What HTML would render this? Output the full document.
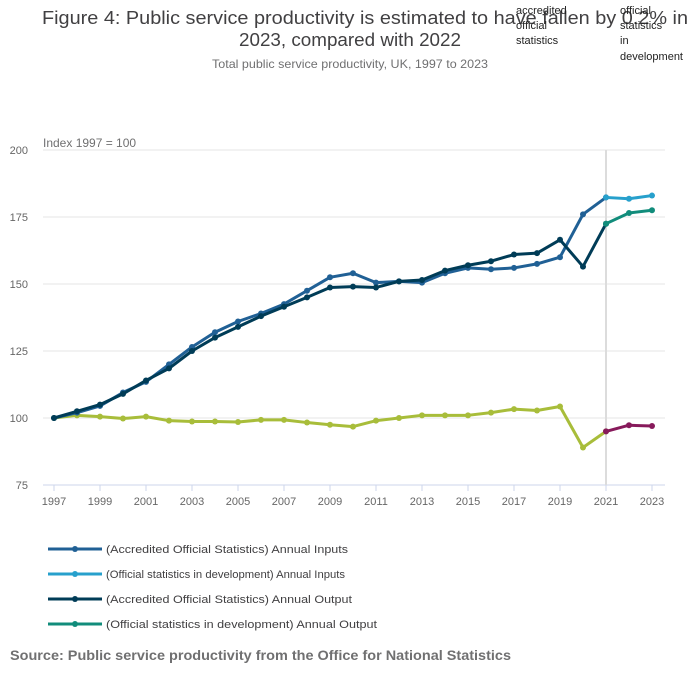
<!DOCTYPE html>
<html><head><meta charset="utf-8"><style>
body{margin:0;background:#fff;font-family:"Liberation Sans",sans-serif;}
svg text{font-family:"Liberation Sans",sans-serif;}
</style></head><body>
<svg id="chart" width="700" height="682">
<text x="42" y="24" textLength="646" lengthAdjust="spacingAndGlyphs" font-size="18" fill="#414042">Figure 4: Public service productivity is estimated to have fallen by 0.2% in</text>
<text x="239" y="46" textLength="222" lengthAdjust="spacingAndGlyphs" font-size="18" fill="#414042">2023, compared with 2022</text>
<text x="212" y="68" textLength="276" lengthAdjust="spacingAndGlyphs" font-size="12" fill="#707071">Total public service productivity, UK, 1997 to 2023</text>
<g font-size="11" fill="#222">
<text x="516" y="14">accredited</text><text x="516" y="29">official</text><text x="516" y="44">statistics</text></g>
<g font-size="11" fill="#222">
<text x="620" y="14">official</text><text x="620" y="29">statistics</text><text x="620" y="44">in</text><text x="620" y="60">development</text></g>
<text x="43" y="147" font-size="12" fill="#707071">Index 1997 = 100</text>
<g id="grid"></g><g id="series"></g><g id="legend"></g>
<text x="10" y="660" textLength="501" lengthAdjust="spacingAndGlyphs" font-size="14" font-weight="bold" fill="#707071">Source: Public service productivity from the Office for National Statistics</text>
</svg>
<script>
const years=[1997,1998,1999,2000,2001,2002,2003,2004,2005,2006,2007,2008,2009,2010,2011,2012,2013,2014,2015,2016,2017,2018,2019,2020,2021,2022,2023];
const yTicks=[75,100,125,150,175,200];
const xTickLabels=[1997,1999,2001,2003,2005,2007,2009,2011,2013,2015,2017,2019,2021,2023];
const inputsAcc=[100,102,104.5,109.5,113.5,120,126.5,132,136,139,142.5,147.5,152.5,154,150.5,151,150.5,154,156,155.5,156,157.5,160,176,182.3,null,null];
const inputsDev=[null,null,null,null,null,null,null,null,null,null,null,null,null,null,null,null,null,null,null,null,null,null,null,null,182.3,181.8,183];
const outputAcc=[100,102.5,105,109,114,118.5,125,130,134,138,141.5,145,148.7,149,148.7,151,151.5,155,157,158.5,161,161.5,166.5,156.5,172.5,null,null];
const outputDev=[null,null,null,null,null,null,null,null,null,null,null,null,null,null,null,null,null,null,null,null,null,null,null,null,172.5,176.5,177.5];
const prodAcc=[100,101,100.5,99.8,100.5,99,98.7,98.7,98.5,99.3,99.3,98.3,97.5,96.8,99,100,101,101,101,102,103.3,102.8,104.3,89,95,null,null];
const prodDev=[null,null,null,null,null,null,null,null,null,null,null,null,null,null,null,null,null,null,null,null,null,null,null,null,95,97.3,97];
const NS='http://www.w3.org/2000/svg';
const x=yr=>54+(yr-1997)*23;
const y=v=>150+(200-v)*2.68;
function mk(tag,attrs,parent){const e=document.createElementNS(NS,tag);for(const k in attrs)e.setAttribute(k,attrs[k]);parent.appendChild(e);return e;}
const grid=document.getElementById('grid');
yTicks.forEach(t=>{
  const l=mk('line',{x1:43,x2:665,y1:y(t),y2:y(t),stroke:t===75?'#ccd6eb':'#e6e6e6','stroke-width':1},grid);
  
  
  const tx=mk('text',{x:28,y:y(t)+4,'text-anchor':'end','font-size':11,fill:'#666'},grid);tx.textContent=t;
  
  
});
xTickLabels.forEach(t=>{
  const l=mk('line',{x1:x(t),x2:x(t),y1:485,y2:491,stroke:'#ccd6eb'},grid);
  
  
  const tx=mk('text',{x:x(t),y:505,'text-anchor':'middle','font-size':11,fill:'#666'},grid);tx.textContent=t;
  
  
});
const vl=mk('line',{x1:x(2021),x2:x(2021),y1:150,y2:485,stroke:'#dcdcdc','stroke-width':2},grid);


const sg=document.getElementById('series');
function draw(vals,color,name){
  const g=mk('g',{},sg);
  
  
  const pts=[];vals.forEach((v,i)=>{if(v!==null)pts.push([x(years[i]),y(v)]);});
  mk('polyline',{points:pts.map(p=>p.join(',')).join(' '),fill:'none',stroke:color,'stroke-width':3,'stroke-linejoin':'round'},g);
  pts.forEach(p=>{const c=mk('circle',{cx:p[0],cy:p[1],r:3,fill:color},g);
    
    });
}
draw(prodAcc,'#a8bd3a','productivity-accredited');
draw(prodDev,'#871a5b','productivity-development');
draw(inputsAcc,'#206095','inputs-accredited');
draw(inputsDev,'#27a0cc','inputs-development');
draw(outputAcc,'#003c57','output-accredited');
draw(outputDev,'#118c7b','output-development');
const legendLabels=['(Accredited Official Statistics) Annual Inputs','(Official statistics in development) Annual Inputs','(Accredited Official Statistics) Annual Output','(Official statistics in development) Annual Output'];
const legendColors=['#206095','#27a0cc','#003c57','#118c7b'];
const legendWidths=[242,239,246,271];
const lg=document.getElementById('legend');
legendLabels.forEach((lab,i)=>{
  const yy=549+i*25;
  const g=mk('g',{},lg);
  
  
  mk('line',{x1:48,x2:102,y1:yy,y2:yy,stroke:legendColors[i],'stroke-width':3},g);
  mk('circle',{cx:75,cy:yy,r:3,fill:legendColors[i]},g);
  const t=mk('text',{x:106,y:yy+4,'font-size':11,fill:'#414042',textLength:legendWidths[i],lengthAdjust:'spacingAndGlyphs'},g);t.textContent=lab;
});
</script>
</body></html>
